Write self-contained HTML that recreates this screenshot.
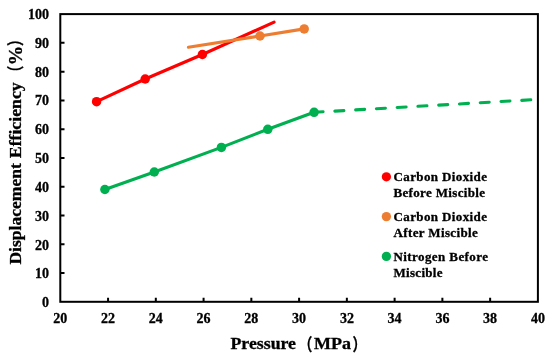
<!DOCTYPE html><html><head><meta charset="utf-8"><title>Displacement Efficiency vs Pressure</title><style>html,body{margin:0;padding:0;background:#fff;overflow:hidden;}svg{display:block;}text{font-family:"Liberation Serif","Noto Sans CJK SC",serif;font-weight:bold;fill:#000;stroke:#000;stroke-width:0.3px;}</style></head><body>
<svg width="550" height="360" viewBox="0 0 550 360">
<rect width="550" height="360" fill="#fff"/>
<path d="M60.3,273.03h4.2 M60.3,244.26h4.2 M60.3,215.49h4.2 M60.3,186.72h4.2 M60.3,157.95h4.2 M60.3,129.18h4.2 M60.3,100.41h4.2 M60.3,71.64h4.2 M60.3,42.87h4.2 M108.06,301.8v-4 M155.82,301.8v-4 M203.58,301.8v-4 M251.34,301.8v-4 M299.10,301.8v-4 M346.86,301.8v-4 M394.62,301.8v-4 M442.38,301.8v-4 M490.14,301.8v-4" stroke="#000" stroke-width="2" fill="none"/>
<rect x="60.3" y="14.1" width="477.6" height="287.7" stroke="#000" stroke-width="2" fill="none"/>
<text x="49" y="307.30" font-size="14" text-anchor="end">0</text>
<text x="49" y="278.46" font-size="14" text-anchor="end">10</text>
<text x="49" y="249.62" font-size="14" text-anchor="end">20</text>
<text x="49" y="220.78" font-size="14" text-anchor="end">30</text>
<text x="49" y="191.94" font-size="14" text-anchor="end">40</text>
<text x="49" y="163.10" font-size="14" text-anchor="end">50</text>
<text x="49" y="134.26" font-size="14" text-anchor="end">60</text>
<text x="49" y="105.42" font-size="14" text-anchor="end">70</text>
<text x="49" y="76.58" font-size="14" text-anchor="end">80</text>
<text x="49" y="47.74" font-size="14" text-anchor="end">90</text>
<text x="49" y="18.90" font-size="14" text-anchor="end">100</text>
<text x="60.3" y="323" font-size="14" text-anchor="middle">20</text>
<text x="108.1" y="323" font-size="14" text-anchor="middle">22</text>
<text x="155.8" y="323" font-size="14" text-anchor="middle">24</text>
<text x="203.6" y="323" font-size="14" text-anchor="middle">26</text>
<text x="251.3" y="323" font-size="14" text-anchor="middle">28</text>
<text x="299.1" y="323" font-size="14" text-anchor="middle">30</text>
<text x="346.9" y="323" font-size="14" text-anchor="middle">32</text>
<text x="394.6" y="323" font-size="14" text-anchor="middle">34</text>
<text x="442.4" y="323" font-size="14" text-anchor="middle">36</text>
<text x="490.1" y="323" font-size="14" text-anchor="middle">38</text>
<text x="537.9" y="323" font-size="14" text-anchor="middle">40</text>
<text x="230.5" y="348.6" font-size="17" textLength="65.5" lengthAdjust="spacingAndGlyphs">Pressure</text>
<text transform="translate(298.75,350.6) scale(0.8,1)" font-size="17" font-family="Noto Serif CJK SC, serif" font-weight="900">（</text>
<text x="314" y="348.6" font-size="17" textLength="37" lengthAdjust="spacingAndGlyphs">MPa</text>
<text transform="translate(352.4,350.6) scale(0.8,1)" font-size="17" font-family="Noto Serif CJK SC, serif" font-weight="900">）</text>
<text transform="translate(21.0,0) rotate(-90)" font-size="17"><tspan x="-264.6" y="0" textLength="101.5" lengthAdjust="spacingAndGlyphs">Displacement</tspan> <tspan x="-158.2" y="0" textLength="75.8" lengthAdjust="spacingAndGlyphs">Efficiency</tspan></text>
<text transform="translate(22.0,79.15) rotate(-90) scale(0.8,1)" font-size="17" font-family="Noto Serif CJK SC, serif" font-weight="900">（</text>
<text transform="translate(21.8,65.2) rotate(-90)" font-size="19.5">%</text>
<text transform="translate(22.0,46.1) rotate(-90) scale(0.8,1)" font-size="17" font-family="Noto Serif CJK SC, serif" font-weight="900">）</text>
<polyline points="96.6,101.7 145.2,79.0 202.4,54.5 274.1,22.1" stroke="#FF0000" stroke-width="3.1" fill="none" stroke-linecap="round" stroke-linejoin="round"/>
<circle cx="96.6" cy="101.7" r="4.75" fill="#FF0000"/>
<circle cx="145.2" cy="79.0" r="4.75" fill="#FF0000"/>
<circle cx="202.4" cy="54.5" r="4.75" fill="#FF0000"/>
<polyline points="188.4,47.2 260.0,36.0 304.2,28.9" stroke="#ED7D31" stroke-width="3.1" fill="none" stroke-linecap="round" stroke-linejoin="round"/>
<circle cx="260.0" cy="36.0" r="4.75" fill="#ED7D31"/>
<circle cx="304.2" cy="28.9" r="4.75" fill="#ED7D31"/>
<polyline points="104.9,189.5 154.3,172.0 221.4,147.4 267.8,129.3 314.1,112.3" stroke="#00B050" stroke-width="3.1" fill="none" stroke-linecap="round" stroke-linejoin="round"/>
<line x1="314.1" y1="112.3" x2="538.0" y2="99.4" stroke="#00B050" stroke-width="3.1" stroke-linecap="round" stroke-dasharray="9 11.8"/>
<circle cx="104.9" cy="189.5" r="4.75" fill="#00B050"/>
<circle cx="154.3" cy="172.0" r="4.75" fill="#00B050"/>
<circle cx="221.4" cy="147.4" r="4.75" fill="#00B050"/>
<circle cx="267.8" cy="129.3" r="4.75" fill="#00B050"/>
<circle cx="314.1" cy="112.3" r="4.75" fill="#00B050"/>
<circle cx="386.4" cy="176.80" r="4.65" fill="#FF0000"/>
<text x="393.5" y="181.00" font-size="13" textLength="93.5" lengthAdjust="spacing">Carbon Dioxide</text>
<text x="393.5" y="197.00" font-size="13" textLength="91.5" lengthAdjust="spacing">Before Miscible</text>
<circle cx="386.4" cy="216.60" r="4.65" fill="#ED7D31"/>
<text x="393.5" y="220.80" font-size="13" textLength="93.5" lengthAdjust="spacing">Carbon Dioxide</text>
<text x="393.5" y="236.80" font-size="13" textLength="84.3" lengthAdjust="spacing">After Miscible</text>
<circle cx="386.4" cy="256.40" r="4.65" fill="#00B050"/>
<text x="393.5" y="260.60" font-size="13" textLength="94.5" lengthAdjust="spacing">Nitrogen Before</text>
<text x="393.5" y="276.60" font-size="13" textLength="49" lengthAdjust="spacing">Miscible</text>
</svg></body></html>
